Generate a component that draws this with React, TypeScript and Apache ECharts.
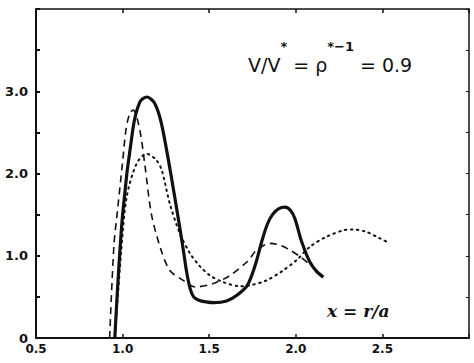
import React, { useEffect, useRef } from "react";
import * as echarts from "echarts";

// Solid curve (thick)
const solidX = [0.955, 1.0, 1.06, 1.1, 1.14, 1.18, 1.21, 1.235, 1.283, 1.331, 1.352, 1.37, 1.39, 1.41, 1.44, 1.48, 1.53, 1.6, 1.66, 1.72, 1.765, 1.803, 1.835, 1.865, 1.9, 1.938, 1.97, 1.995, 2.034, 2.082, 2.12, 2.159];
const solidY = [0, 1.5, 2.55, 2.87, 2.93, 2.87, 2.72, 2.5, 1.94, 1.33, 1.05, 0.8, 0.6, 0.5, 0.46, 0.44, 0.43, 0.45, 0.52, 0.64, 0.88, 1.17, 1.38, 1.5, 1.57, 1.59, 1.55, 1.45, 1.17, 0.92, 0.81, 0.74];

// Dashed curve
const dashedX = [0.925, 0.95, 0.97, 1.0, 1.02, 1.043, 1.062, 1.1, 1.13, 1.166, 1.216, 1.273, 1.35, 1.418, 1.52, 1.62, 1.72, 1.775, 1.852, 1.907, 1.966, 2.024, 2.076];
const dashedY = [0, 1.13, 1.54, 2.14, 2.54, 2.74, 2.77, 2.52, 2.08, 1.51, 1.11, 0.82, 0.7, 0.62, 0.66, 0.76, 0.93, 1.07, 1.15, 1.13, 1.07, 0.99, 0.9];

// Dotted curve
const dottedX = [0.955, 0.99, 1.023, 1.081, 1.139, 1.196, 1.226, 1.273, 1.331, 1.389, 1.447, 1.505, 1.58, 1.678, 1.736, 1.83, 1.926, 2.006, 2.082, 2.176, 2.276, 2.33, 2.407, 2.487, 2.533];
const dottedY = [0, 1.0, 1.71, 2.12, 2.24, 2.16, 2.04, 1.63, 1.27, 1.03, 0.87, 0.76, 0.68, 0.63, 0.64, 0.7, 0.82, 0.95, 1.11, 1.23, 1.31, 1.32, 1.29, 1.21, 1.16];

// Axis tick labels
const xTickLabels = ["0.5", "1.0", "1.5", "2.0", "2.5"];
const yTickLabels = ["0", "1.0", "2.0", "3.0"];

const pairs = (xs: number[], ys: number[]) => xs.map((x, i) => [x, ys[i]]);

export default function App() {
  const ref = useRef<HTMLDivElement>(null);
  useEffect(() => {
    if (!ref.current) return;
    const chart = echarts.init(ref.current, null, { renderer: "svg" });
    const labelFont = { fontFamily: "DejaVu Sans", fontWeight: "bold" as const, color: "#111" };
    const axisLine = { show: true, onZero: false, lineStyle: { color: "#111", width: 2 } };
    const thinLine = { show: true, onZero: false, lineStyle: { color: "#111", width: 1.5 } };
    chart.setOption({
      animation: false,
      backgroundColor: "#fff",
      grid: { left: 36, right: 5, top: 9, bottom: 25, containLabel: false },
      xAxis: [
        {
          type: "value", min: 0.5, max: 3.0, interval: 0.5, position: "bottom",
          axisLine, splitLine: { show: false },
          axisTick: { show: true, inside: true, length: 4, lineStyle: { color: "#111", width: 1.5 } },
          axisLabel: {
            ...labelFont, fontSize: 12, margin: 5,
            formatter: (v: number) => {
              const s = v.toFixed(1);
              return xTickLabels.includes(s) ? s : "";
            },
          },
        },
        {
          type: "value", min: 0.5, max: 3.0, interval: 0.5, position: "top",
          axisLine: thinLine, splitLine: { show: false },
          axisTick: { show: true, inside: true, length: 4, lineStyle: { color: "#111", width: 1.5 } },
          axisLabel: { show: false },
        },
      ],
      yAxis: [
        {
          type: "value", min: 0, max: 4, interval: 0.5, position: "left",
          axisLine, splitLine: { show: false },
          axisTick: { show: true, inside: true, length: 4, lineStyle: { color: "#111", width: 2 } },
          axisLabel: {
            ...labelFont, fontSize: 13, margin: 8,
            formatter: (v: number) => {
              const s = v === 0 ? "0" : v.toFixed(1);
              return yTickLabels.includes(s) ? s : "";
            },
          },
        },
        {
          type: "value", min: 0, max: 4, interval: 0.5, position: "right",
          axisLine: thinLine, splitLine: { show: false },
          axisTick: { show: true, inside: true, length: 3, lineStyle: { color: "#111", width: 1 } },
          axisLabel: { show: false },
        },
      ],
      series: [
        {
          type: "line", data: pairs(solidX, solidY), smooth: 0.3, showSymbol: false,
          lineStyle: { color: "#111", width: 3.2 },
        },
        {
          type: "line", data: pairs(dashedX, dashedY), smooth: 0.3, showSymbol: false,
          lineStyle: { color: "#111", width: 1.6, type: [7, 5] },
        },
        {
          type: "line", data: pairs(dottedX, dottedY), smooth: 0.3, showSymbol: false,
          lineStyle: { color: "#111", width: 2, type: [1.5, 4.5], cap: "round" },
        },
      ],
      graphic: [
        {
          type: "text", left: 248, top: 40,
          style: {
            text: "{m|V/V}{s|*}{m| = ρ}{s|*−1}{m| = 0.9}",
            rich: {
              m: { fontSize: 19, lineHeight: 50, fontFamily: "DejaVu Sans", fill: "#111", verticalAlign: "middle" },
              s: { fontSize: 13, lineHeight: 13, fontFamily: "DejaVu Sans", fontWeight: "bold", fill: "#111", verticalAlign: "top" },
            },
          },
        },
        {
          type: "text", left: 327, top: 302,
          style: {
            text: "x = r/a",
            fontSize: 17, fontFamily: "DejaVu Serif", fontStyle: "italic", fontWeight: "bold", fill: "#111",
          },
        },
      ],
    });
    return () => chart.dispose();
  }, []);
  return <div ref={ref} style={{ width: 474, height: 363, position: "absolute", left: 0, top: 0 }} />;
}
